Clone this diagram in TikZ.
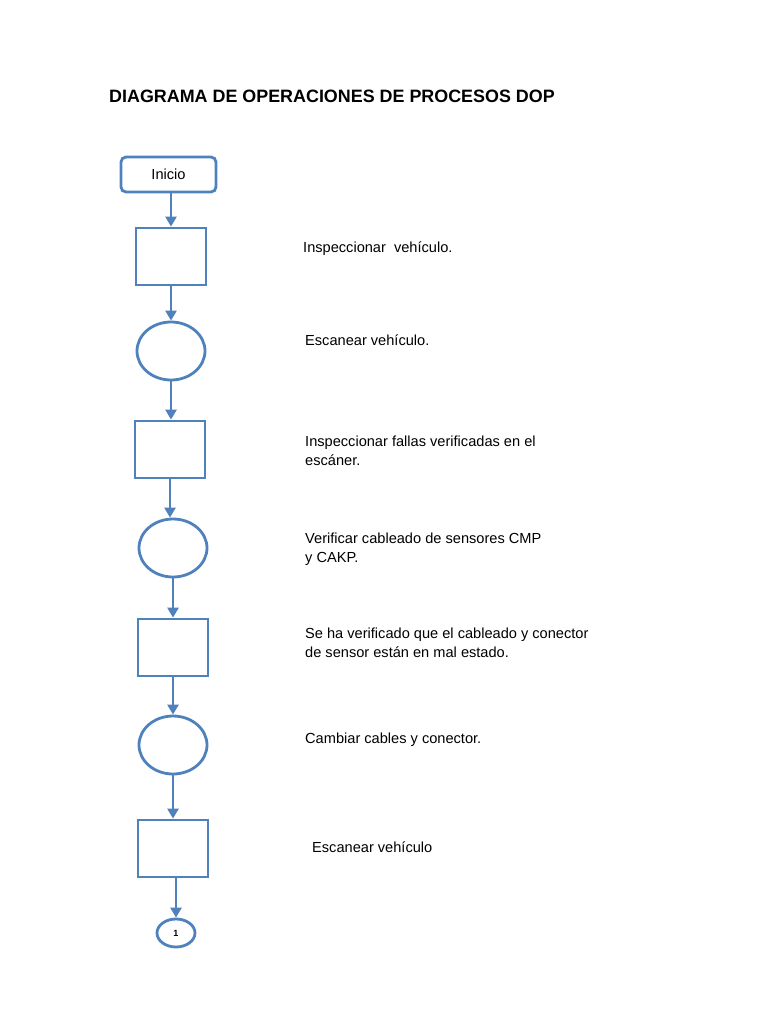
\documentclass[tikz,border=0pt]{standalone}
\usepackage{fontspec}
\setmainfont{Liberation Sans}
\usetikzlibrary{shapes.geometric,arrows.meta}
\definecolor{bl}{HTML}{4F81BD}
\begin{document}
\begin{tikzpicture}[x=1pt,y=-1pt,
  box/.style={draw=bl,line width=2.8pt,minimum width=70pt,minimum height=57pt,inner sep=0},
  ell/.style={draw=bl,line width=2.8pt,ellipse,minimum width=68pt,minimum height=58pt,inner sep=0},
  lab/.style={anchor=north west,font=\fontsize{14.6}{19}\selectfont,align=left,inner sep=0},
  arr/.style={draw=bl,line width=2.8pt,-{Triangle[length=10pt,width=11pt]}}]
\useasboundingbox (0,0) rectangle (768,1024);
\node[anchor=west,font=\bfseries\fontsize{17.9}{21}\selectfont,inner sep=0] (t) at (109,96) {DIAGRAMA DE OPERACIONES DE PROCESOS DOP};
\node[draw=bl,line width=2.8pt,rounded corners=5pt,minimum width=95pt,minimum height=35pt,inner sep=0,font=\fontsize{14.6}{18}\selectfont] (s) at (168.5,174.5) {Inicio};
\node[box] (r1) at (171,256.5) {};
\node[ell] (c1) at (171,351) {};
\node[box] (r2) at (170,449.5) {};
\node[ell] (c2) at (173,548) {};
\node[box] (r3) at (173,647.5) {};
\node[ell] (c3) at (173,745) {};
\node[box] (r4) at (173,848.5) {};
\node[draw=bl,line width=2.8pt,ellipse,minimum width=38pt,minimum height=28pt,inner sep=0,font=\bfseries\fontsize{9}{10}\selectfont] (e) at (176,933) {1};
\draw[arr] (r1.north |- s.south) -- (r1.north);
\draw[arr] (r1.south) -- (c1.north);
\draw[arr] (c1.south) -- (c1.south |- r2.north);
\draw[arr] (r2.south) -- (r2.south |- c2.north);
\draw[arr] (c2.south) -- (r3.north);
\draw[arr] (r3.south) -- (c3.north);
\draw[arr] (c3.south) -- (r4.north);
\draw[arr] (e.north |- r4.south) -- (e.north);
\node[lab] (l1) at (303,242) {Inspeccionar\ \ vehículo.};
\node[lab] (l2) at (305,335) {Escanear vehículo.};
\node[lab] (l3) at (305,436) {Inspeccionar fallas verificadas en el\\escáner.};
\node[lab] (l4) at (305,533) {Verificar cableado de sensores CMP\\y CAKP.};
\node[lab] (l5) at (305,628) {Se ha verificado que el cableado y conector\\de sensor están en mal estado.};
\node[lab] (l6) at (305,733) {Cambiar cables y conector.};
\node[lab] (l7) at (312,842) {Escanear vehículo};
\end{tikzpicture}
\end{document}
